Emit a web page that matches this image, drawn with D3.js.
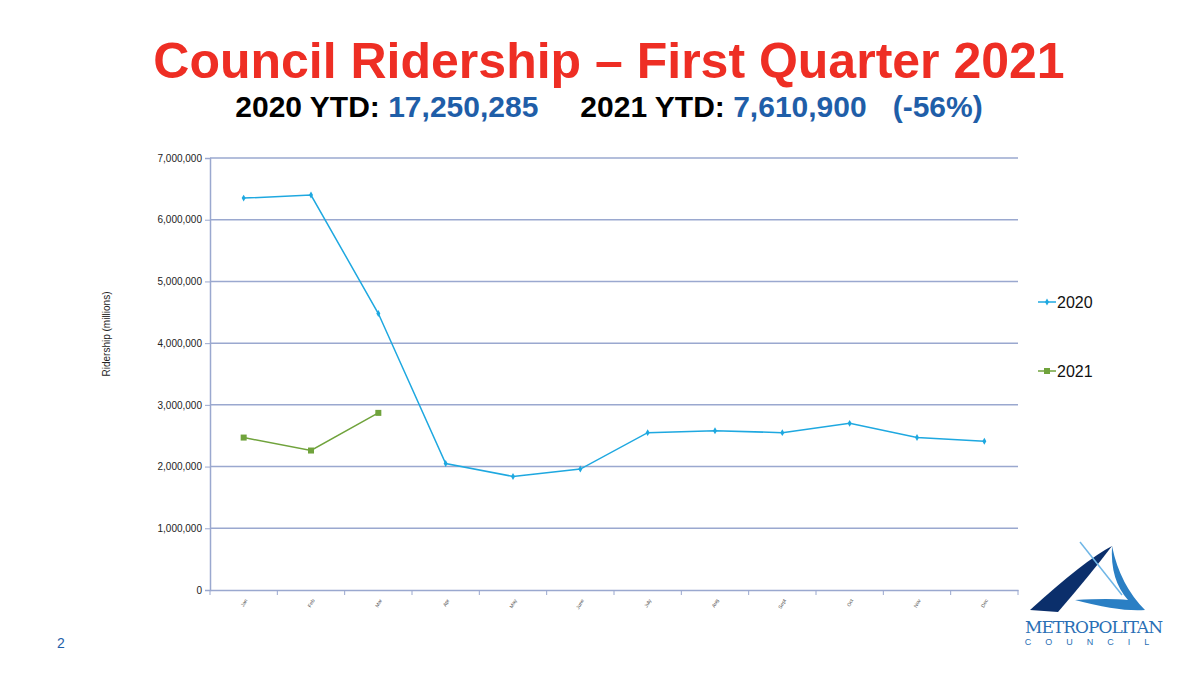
<!DOCTYPE html>
<html>
<head>
<meta charset="utf-8">
<script src="https://d3js.org/d3.v7.min.js"></script>
<style>body{margin:0;background:#fff}</style>
</head>
<body>
<svg width="1200" height="673" font-family="Arial, 'Liberation Sans', sans-serif"></svg>
<script>
var months = ["Jan","Feb","Mar","Apr","May","June","July","Aug","Sept","Oct","Nov","Dec"];
var ridership2020 = [6350000,6400000,4480000,2050000,1840000,1960000,2550000,2580000,2550000,2700000,2470000,2410000];
var ridership2021 = [2470000,2260000,2870000];
var yTicks = [0,1000000,2000000,3000000,4000000,5000000,6000000,7000000];

var svg = d3.select("svg");
var c2020 = "#1ea8e0", c2021 = "#70a33c";

svg.append("text").attr("x", 609).attr("y", 78).attr("text-anchor", "middle")
  .attr("fill", "#ee2e24").attr("font-size", 50).attr("font-weight", "bold")
  .text("Council Ridership \u2013 First Quarter 2021");

var sub = svg.append("text").attr("x", 609).attr("y", 117).attr("text-anchor", "middle")
  .attr("font-size", 30).attr("font-weight", "bold");
sub.append("tspan").attr("fill", "#000").text("2020 YTD: ");
sub.append("tspan").attr("fill", "#1f5ea8").text("17,250,285");
sub.append("tspan").attr("fill", "#000").attr("dx", 42).text("2021 YTD: ");
sub.append("tspan").attr("fill", "#1f5ea8").text("7,610,900");
sub.append("tspan").attr("fill", "#1f5ea8").attr("dx", 26).text("(-56%)");

var x = d3.scaleBand().domain(months).range([210, 1018]);
var y = d3.scaleLinear().domain([0, 7000000]).range([590, 158]);

// gridlines
svg.append("g").selectAll("line").data(yTicks.slice(1)).enter().append("line")
  .attr("x1", 210).attr("x2", 1018).attr("y1", y).attr("y2", y)
  .attr("stroke", "#9aa8cf").attr("stroke-width", 1.5);

var yAxis = svg.append("g").attr("transform", "translate(210,0)")
  .call(d3.axisLeft(y).tickValues(yTicks).tickSize(5).tickFormat(d3.format(",")));
yAxis.selectAll("line").attr("stroke", "#9aa8cf");
yAxis.select(".domain").attr("stroke", "#9aa8cf").attr("stroke-width", 1.5);
yAxis.selectAll("text").attr("font-size", 10).attr("fill", "#222");

var xAxis = svg.append("g").attr("transform", "translate(0,590)")
  .call(d3.axisBottom(x).tickSize(0));
xAxis.select(".domain").attr("stroke", "#9aa8cf").attr("stroke-width", 1.5);
xAxis.selectAll("text").attr("font-size", 5).attr("fill", "#555")
  .attr("transform", "translate(0,8) rotate(-60)").attr("text-anchor", "end").attr("dy", "0.3em");
svg.append("g").selectAll("line").data(d3.range(13)).enter().append("line")
  .attr("x1", function(i){ return 210 + i * x.step(); }).attr("x2", function(i){ return 210 + i * x.step(); })
  .attr("y1", 590).attr("y2", 595).attr("stroke", "#9aa8cf");

svg.append("text").attr("transform", "translate(110,334) rotate(-90)").attr("text-anchor", "middle")
  .attr("font-size", 10).attr("fill", "#222").text("Ridership (millions)");

var line = d3.line().x(function(d, i){ return x(months[i]) + x.bandwidth() / 2; }).y(function(d){ return y(d); });

svg.append("path").datum(ridership2020).attr("d", line).attr("fill", "none").attr("stroke", c2020).attr("stroke-width", 1.5);
svg.append("g").selectAll("path").data(ridership2020).enter().append("path")
  .attr("d", d3.symbol(d3.symbolDiamond, 14))
  .attr("transform", function(d, i){ return "translate(" + (x(months[i]) + x.bandwidth() / 2) + "," + y(d) + ")"; })
  .attr("fill", c2020);

svg.append("path").datum(ridership2021).attr("d", line).attr("fill", "none").attr("stroke", c2021).attr("stroke-width", 1.5);
svg.append("g").selectAll("rect").data(ridership2021).enter().append("rect")
  .attr("x", function(d, i){ return x(months[i]) + x.bandwidth() / 2 - 3; })
  .attr("y", function(d){ return y(d) - 3; }).attr("width", 6).attr("height", 6).attr("fill", c2021);

// legend
[[ "2020", c2020, 302 ], [ "2021", c2021, 371 ]].forEach(function(l) {
  svg.append("line").attr("x1", 1038).attr("x2", 1056).attr("y1", l[2]).attr("y2", l[2]).attr("stroke", l[1]).attr("stroke-width", 1.5);
  if (l[0] === "2020") svg.append("path").attr("d", d3.symbol(d3.symbolDiamond, 14)).attr("transform", "translate(1047," + l[2] + ")").attr("fill", l[1]);
  else svg.append("rect").attr("x", 1044).attr("y", l[2] - 3).attr("width", 6).attr("height", 6).attr("fill", l[1]);
  svg.append("text").attr("x", 1057).attr("y", l[2] + 6).attr("font-size", 16).attr("fill", "#111").text(l[0]);
});

svg.append("text").attr("x", 57).attr("y", 648).attr("font-size", 14).attr("fill", "#1f5ea8").text("2");

// logo
var logo = svg.append("g");
logo.append("path").attr("d", "M1030,610 Q1085,560 1112,546 Q1090,575 1058,612 Z").attr("fill", "#0b2f6b");
logo.append("path").attr("d", "M1112,546 Q1120,585 1145,610 Q1120,612 1075,600 Q1110,598 1128,600 Q1110,580 1112,546 Z").attr("fill", "#2a7fc4");
logo.append("line").attr("x1", 1080).attr("y1", 542).attr("x2", 1122).attr("y2", 595).attr("stroke", "#6fb6e6").attr("stroke-width", 1.5);
logo.append("text").attr("x", 1094).attr("y", 633).attr("text-anchor", "middle").attr("font-family", "'DejaVu Serif', serif")
  .attr("font-size", 17).attr("fill", "#2a6fb5").attr("textLength", 138).text("METROPOLITAN");
logo.append("text").attr("x", 1094).attr("y", 645).attr("text-anchor", "middle").attr("font-size", 9)
  .attr("fill", "#2a6fb5").attr("letter-spacing", 14).text("COUNCIL");
</script>
</body>
</html>
